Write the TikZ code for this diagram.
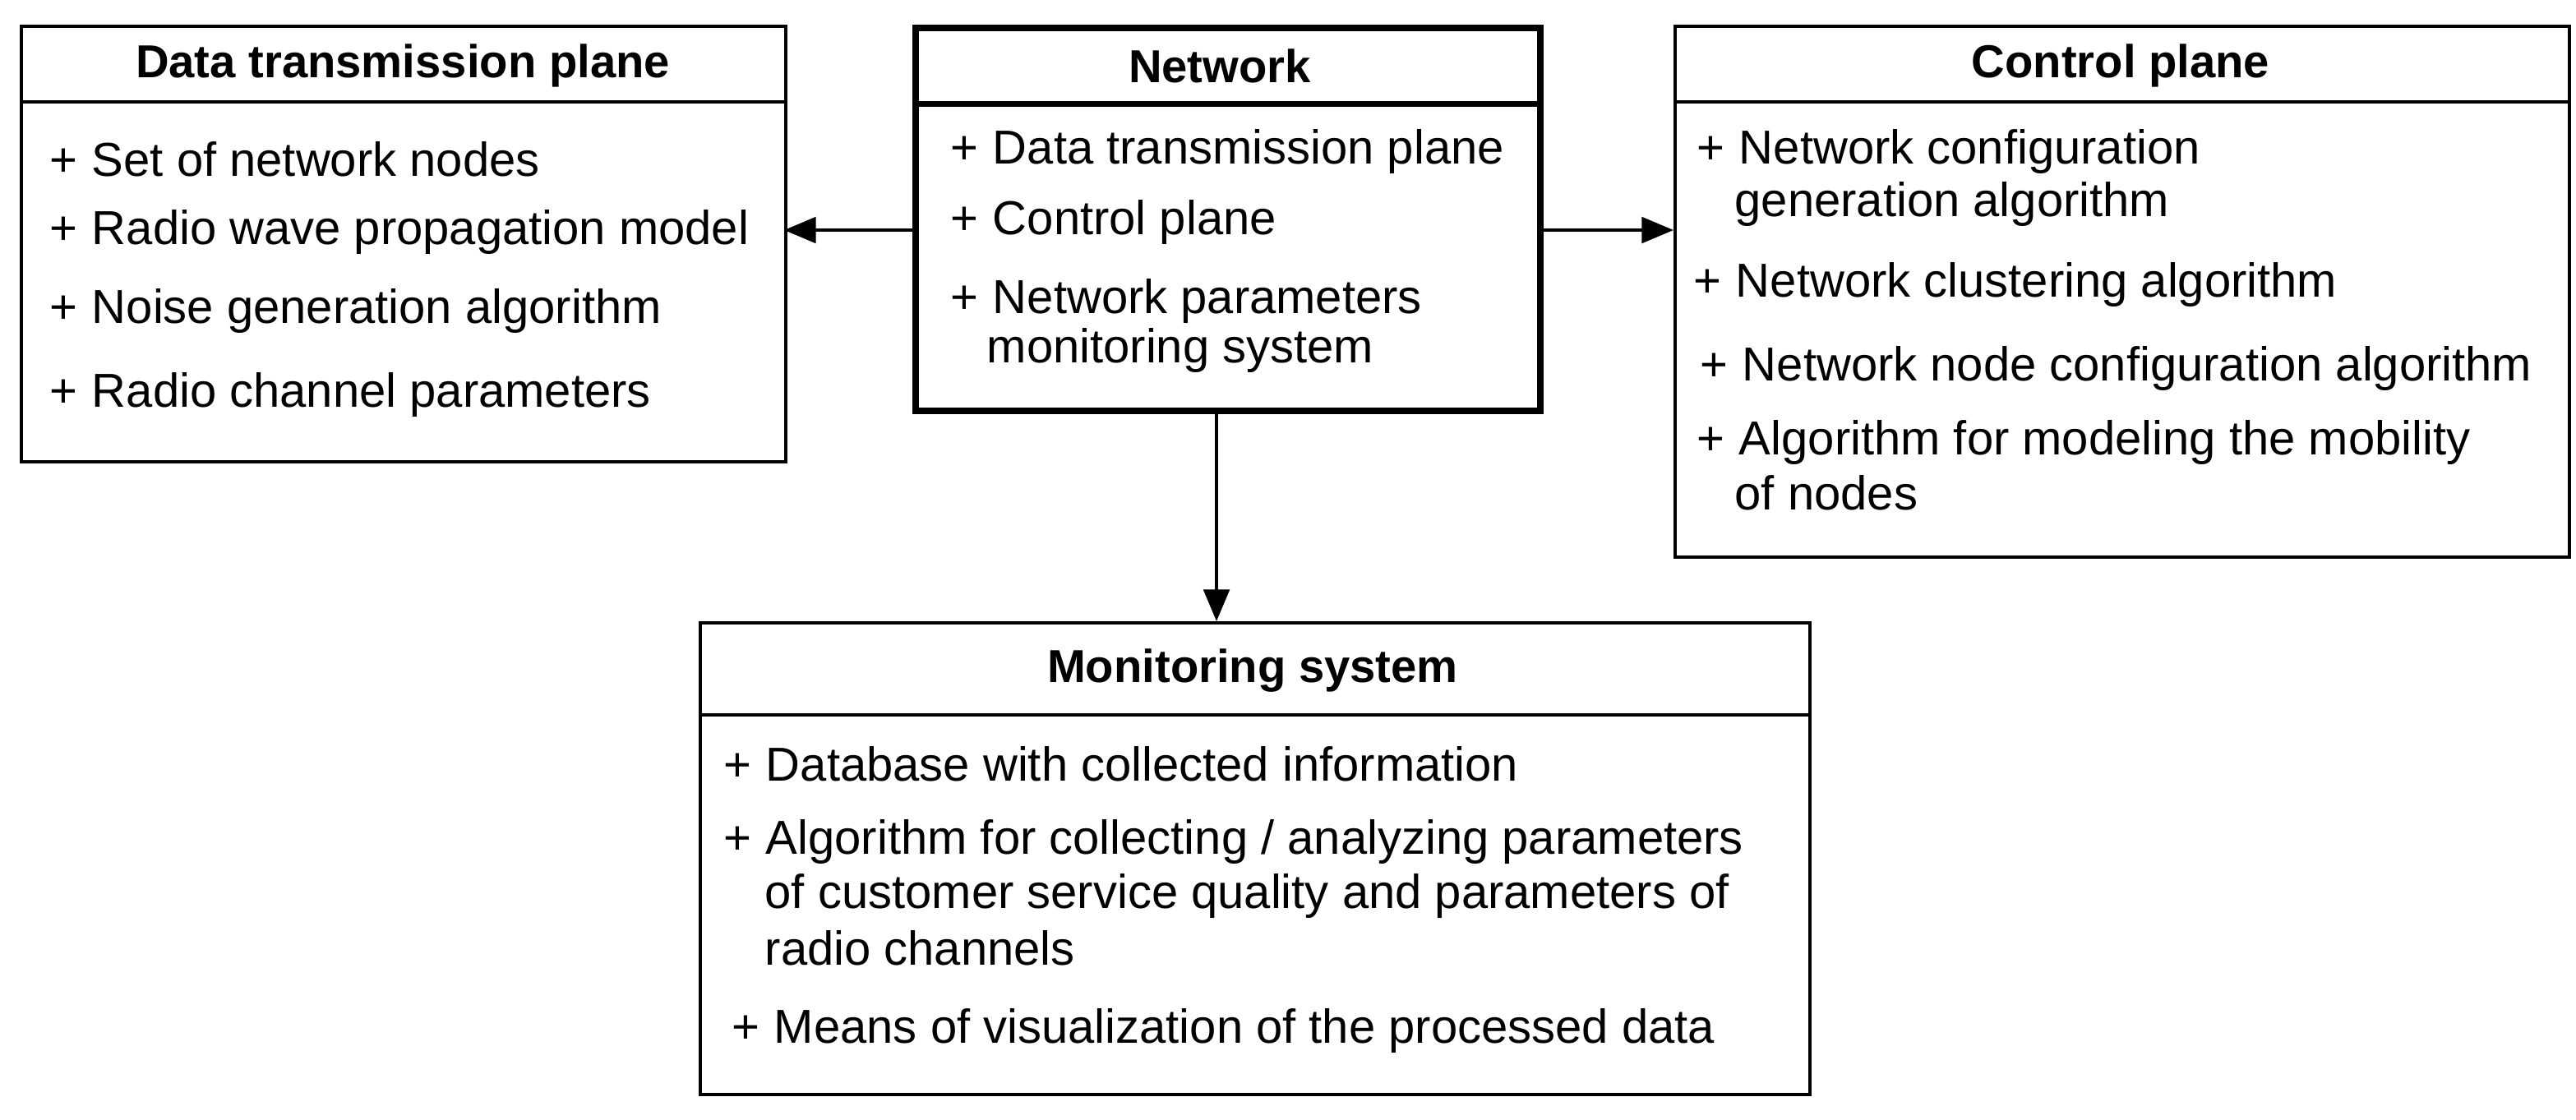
\documentclass[tikz,border=0pt]{standalone}
\usepackage{fontspec}
\setmainfont{Liberation Sans}
\usetikzlibrary{arrows.meta}
\begin{document}
\begin{tikzpicture}[x=0.02cm,y=-0.02cm,
  box/.style={draw,line width=1pt,rectangle,anchor=north west,inner sep=0pt},
  tt/.style={font=\fontsize{16}{19}\selectfont\bfseries,anchor=center,inner sep=0pt},
  it/.style={font=\fontsize{16.5}{19}\selectfont,anchor=west,inner sep=0pt},
  arr/.style={line width=1pt,-{Triangle[length=11pt,width=9pt]}}]
\useasboundingbox (0,0) rectangle (1567,681);
% boxes
\node[box,minimum width=465*0.02cm,minimum height=265*0.02cm] (dbox) at (12,15) {};
\node[box,line width=2.2pt,minimum width=380*0.02cm,minimum height=233*0.02cm] (nbox) at (555,15) {};
\node[box,minimum width=544*0.02cm,minimum height=323*0.02cm] (cbox) at (1018,15) {};
\node[box,minimum width=675*0.02cm,minimum height=287*0.02cm] (mbox) at (425,378) {};
\draw[line width=1pt] (12,62) -- (477,62);
\draw[line width=2pt] (555,63) -- (935,63);
\draw[line width=1pt] (1018,62) -- (1562,62);
\draw[line width=1pt] (425,435) -- (1100,435);
% titles
\node[tt] (dt) at (245,40) {Data transmission plane};
\node[tt] (nt) at (742,40) {Network};
\node[tt] (ct) at (1290,40) {Control plane};
\node[tt] (mt) at (762,408) {Monitoring system};
% data items
\node[it] (d1) at (30,97) {+\hspace{0.3em}Set of network nodes};
\node[it] (d2) at (30,141) {+\hspace{0.3em}Radio wave propagation model};
\node[it] (d3) at (30,189) {+\hspace{0.3em}Noise generation algorithm};
\node[it] (d4) at (30,240) {+\hspace{0.3em}Radio channel parameters};
% network items
\node[it] (n1) at (578,92) {+\hspace{0.3em}Data transmission plane};
\node[it] (n2) at (578,135) {+\hspace{0.3em}Control plane};
\node[it] (n3) at (578,183) {+\hspace{0.3em}Network parameters};
\node[it] (n4) at (600,213) {monitoring system};
% control items
\node[it] (c1) at (1032,92) {+\hspace{0.3em}Network configuration};
\node[it] (c1b) at (1055,124) {generation algorithm};
\node[it] (c2) at (1030,173) {+\hspace{0.3em}Network clustering algorithm};
\node[it] (c3) at (1034,224) {+\hspace{0.3em}Network node configuration algorithm};
\node[it] (c4) at (1032,269) {+\hspace{0.3em}Algorithm for modeling the mobility};
\node[it] (c4b) at (1055,300) {of nodes};
% monitoring items
\node[it] (m1) at (440,465) {+\hspace{0.3em}Database with collected information};
\node[it] (m2) at (440,512) {+\hspace{0.3em}Algorithm for collecting / analyzing parameters};
\node[it] (m2b) at (465,545) {of customer service quality and parameters of};
\node[it] (m2c) at (465,577) {radio channels};
\node[it] (m3) at (445,627) {+\hspace{0.3em}Means of visualization of the processed data};
% arrows
\coordinate (nl) at (555,140); \coordinate (dr) at (477,140);
\coordinate (nr) at (935,140); \coordinate (cl) at (1018,140);
\coordinate (nb) at (740,248); \coordinate (mt0) at (740,378);
\draw[arr] (nl) -- (dr);
\draw[arr] (nr) -- (cl);
\draw[arr] (nb) -- (mt0);
\end{tikzpicture}
\end{document}
